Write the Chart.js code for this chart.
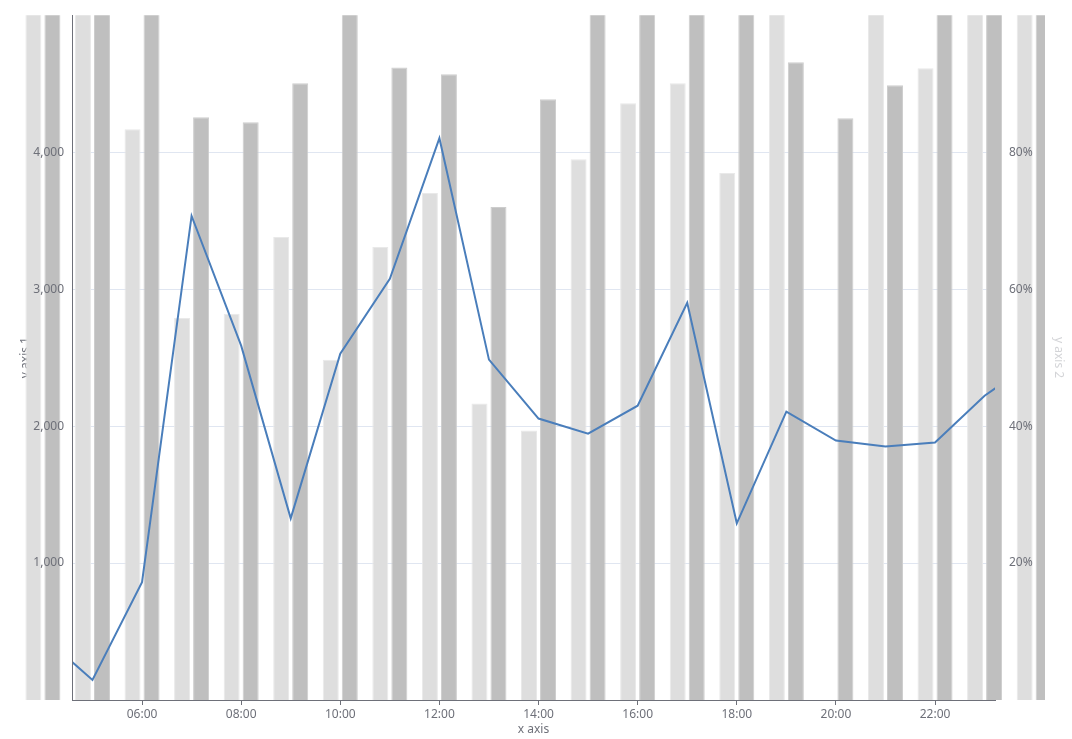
<!DOCTYPE html>
<html><head><meta charset="utf-8">
<script src="https://cdn.jsdelivr.net/npm/chart.js@4/dist/chart.umd.min.js"></script>
<style>html,body{margin:0;padding:0;background:#fff}#w{width:1072px;height:739px}</style>
</head><body><div id="w"><canvas id="c"></canvas></div>
<script>
const hours = [4,5,6,7,8,9,10,11,12,13,14,15,16,17,18,19,20,21,22,23,24];
const seriesA = [5500,5500,4168,2790,2820,3381,2485,3308,3701,2164,1967,3949,4357,4503,3847,5500,0,5500,4612,5500,5500];
const seriesB = [5500,5500,5500,4255,4219,4503,5500,4619,4568,3599,4386,5500,5500,5500,5500,4656,4248,4488,5500,5500,5500];
const lineVals = [466,146,860,3534,2587,1326,2528,3075,4102,2485,2055,1945,2149,2900,1290,2106,1894,1851,1880,2222,2470];
const xTicks = [6,8,10,12,14,16,18,20,22];
const y1Ticks = [1000,2000,3000,4000];
const y2Ticks = [20,40,60,80];

const pts = a => hours.map((h,i)=>({x:h,y:a[i]}));
const font = {family:'"Noto Sans", sans-serif', size:12};
const tc = '#6e7079';
const barClip = {left:100,right:50,top:0,bottom:0};
new Chart(document.getElementById('c'), {
  data: {datasets: [
    {type:'line', data:pts(lineVals), borderColor:'#4a7ebb', borderWidth:2, pointRadius:0, yAxisID:'y', xAxisID:'x', tension:0, order:0},
    {type:'bar', data:pts(seriesA), backgroundColor:'#dedede', borderColor:'#e9e9e9', borderWidth:1, yAxisID:'y', categoryPercentage:0.767, barPercentage:0.842, clip:barClip, order:1},
    {type:'bar', data:pts(seriesB), backgroundColor:'#bfbfbf', borderColor:'#cdcdcd', borderWidth:1, yAxisID:'y', categoryPercentage:0.767, barPercentage:0.842, clip:barClip, order:1}
  ]},
  options: {
    responsive:true, maintainAspectRatio:false, animation:false,
    layout:{padding:{top:15,left:0,right:0,bottom:0}},
    plugins:{legend:{display:false}, tooltip:{enabled:false}},
    scales:{
      x:{type:'linear', min:4.587, max:23.21, offset:false,
        afterBuildTicks:s=>{s.ticks=xTicks.map(v=>({value:v}));},
        afterFit:s=>{s.height=39;},
        ticks:{font, color:tc, maxRotation:0, padding:2, callback:v=>String(v).padStart(2,'0')+':00'},
        grid:{drawOnChartArea:false, offset:false, tickLength:5, color:tc},
        border:{color:tc},
        title:{display:true, text:'x axis', font, color:tc, padding:{top:0,bottom:2}}},
      y:{position:'left', min:0, max:5000,
        afterBuildTicks:s=>{s.ticks=y1Ticks.map(v=>({value:v}));},
        afterFit:s=>{s.width=72;},
        ticks:{font, color:tc, padding:8, z:1, callback:v=>v.toLocaleString('en-US')},
        grid:{color:'#e0e6f1', tickLength:0},
        border:{color:tc, display:true, z:1},
        title:{display:true, text:'y axis 1', font, color:tc, padding:{top:18,bottom:0}}},
      y2:{position:'right', min:0, max:100,
        afterBuildTicks:s=>{s.ticks=y2Ticks.map(v=>({value:v}));},
        afterFit:s=>{s.width=77;},
        ticks:{font, color:tc, padding:6, z:1, callback:v=>v+'%'},
        grid:{drawOnChartArea:false, display:false},
        border:{display:false},
        title:{display:true, text:'y axis 2', font, color:'rgba(110,112,121,0.3)', padding:{top:6,bottom:0}}}
    }
  }
});
</script></body></html>
